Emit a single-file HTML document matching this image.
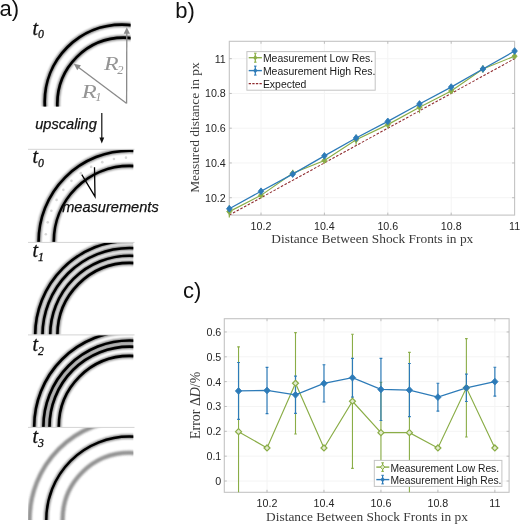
<!DOCTYPE html>
<html><head><meta charset="utf-8"><title>Figure</title>
<style>
html,body{margin:0;padding:0;background:#fff;}
svg{display:block;}
.tk{font-family:"Liberation Sans",Arial,sans-serif;font-size:10.7px;fill:#262626;}
.lg{font-family:"Liberation Sans",Arial,sans-serif;font-size:10.1px;fill:#1a1a1a;}
.xl{font-family:"Liberation Serif","Times New Roman",serif;font-size:13.4px;fill:#3a3a3a;}
.pl{font-family:"Liberation Sans",Arial,sans-serif;font-size:22px;fill:#111;}
.up{font-family:"Liberation Sans",Arial,sans-serif;font-size:14.6px;font-style:italic;fill:#111;stroke:#111;stroke-width:0.25px;}
.tl{font-family:"Liberation Serif","Times New Roman",serif;font-size:19px;font-style:italic;fill:#111;stroke:#111;stroke-width:0.3px;}
.ts{font-size:11.8px;}
.rl{font-family:"Liberation Serif","Times New Roman",serif;font-size:18px;font-style:italic;fill:#959595;}
.rs{font-family:"Liberation Serif","Times New Roman",serif;font-size:12.5px;font-style:italic;fill:#959595;}
</style></head>
<body>
<svg width="520" height="524" viewBox="0 0 520 524">
<defs>
<filter id="bl" x="-10%" y="-10%" width="120%" height="120%"><feGaussianBlur stdDeviation="0.6"/></filter>
<filter id="bl2" x="-10%" y="-10%" width="120%" height="120%"><feGaussianBlur stdDeviation="0.95"/></filter>
<filter id="bl1" x="-10%" y="-10%" width="120%" height="120%"><feGaussianBlur stdDeviation="0.5"/></filter>
<filter id="bl3" x="-10%" y="-10%" width="120%" height="120%"><feGaussianBlur stdDeviation="1.2"/></filter>
</defs>
<rect x="0" y="0" width="520" height="524" fill="#fff"/>
<clipPath id="p0"><rect x="30" y="14" width="100.6" height="92.5"/></clipPath>
<g clip-path="url(#p0)">
<g filter="url(#bl3)" opacity="0.5">
<circle cx="121.9" cy="101.8" r="77.2" fill="none" stroke="#000" stroke-width="4.8"/>
<circle cx="123.6" cy="104.0" r="66.3" fill="none" stroke="#000" stroke-width="4.8"/>
</g><g filter="url(#bl1)">
<circle cx="121.9" cy="101.8" r="77.2" fill="none" stroke="#000" stroke-width="2.7"/>
<circle cx="123.6" cy="104.0" r="66.3" fill="none" stroke="#000" stroke-width="2.7"/>
</g></g>
<g stroke="#8a8a8a" stroke-width="1.3" fill="#8a8a8a">
<line x1="126.6" y1="103.4" x2="126.8" y2="32"/>
<path d="M126.8,27.2 L129.9,33.8 L123.7,33.8Z" stroke="none"/>
<line x1="126.4" y1="103.3" x2="77.00" y2="66.20"/>
<path d="M73.8,63.8 L80.94,65.28 L77.22,70.24Z" stroke="none"/>
</g>
<text x="103.9" y="70.4" class="rl" textLength="14.6" lengthAdjust="spacingAndGlyphs">R</text><text x="117.2" y="74.3" class="rs">2</text>
<text x="81.7" y="98.1" class="rl" textLength="15" lengthAdjust="spacingAndGlyphs">R</text><text x="95.3" y="101.3" class="rs">1</text>
<text class="tl" transform="translate(32.4 34.6) scale(1.04 1.1)">t</text><text x="37.9" y="38.3" class="tl ts">0</text>
<text x="35.2" y="129.2" class="up">upscaling</text>
<line x1="101.8" y1="113" x2="101.8" y2="139" stroke="#111" stroke-width="1.2"/>
<path d="M101.8,143.6 L104.2,137.4 L99.4,137.4Z" fill="#111"/>
<clipPath id="pc0"><rect x="28" y="149.3" width="105.3" height="92.60"/></clipPath>
<g clip-path="url(#pc0)">
<circle cx="125.98" cy="157.67" r="1.3" fill="#d8d8d8"/>
<circle cx="113.96" cy="159.05" r="1.3" fill="#d8d8d8"/>
<circle cx="102.26" cy="162.14" r="1.3" fill="#d8d8d8"/>
<circle cx="91.13" cy="166.88" r="1.3" fill="#d8d8d8"/>
<circle cx="80.79" cy="173.16" r="1.3" fill="#d8d8d8"/>
<circle cx="71.47" cy="180.87" r="1.3" fill="#d8d8d8"/>
<circle cx="63.34" cy="189.84" r="1.3" fill="#d8d8d8"/>
<circle cx="56.59" cy="199.88" r="1.3" fill="#d8d8d8"/>
<circle cx="51.36" cy="210.79" r="1.3" fill="#d8d8d8"/>
<circle cx="47.74" cy="222.33" r="1.3" fill="#d8d8d8"/>
<circle cx="45.82" cy="234.28" r="1.3" fill="#d8d8d8"/>
<g filter="url(#bl3)" opacity="0.5">
<circle cx="129.5" cy="241.6" r="90.9" fill="none" stroke="#000" stroke-width="4.8"/>
<circle cx="129.5" cy="241.6" r="75.7" fill="none" stroke="#000" stroke-width="4.8"/>
</g>
<g filter="url(#bl1)">
<circle cx="129.5" cy="241.6" r="90.9" fill="none" stroke="#000" stroke-width="2.6"/>
<circle cx="129.5" cy="241.6" r="75.7" fill="none" stroke="#000" stroke-width="2.6"/>
</g>
<g filter="url(#bl2)">
</g>
</g>
<line x1="28" y1="149.3" x2="134.5" y2="149.3" stroke="#d4d4d4" stroke-width="1"/>
<text class="tl" transform="translate(32.6 163.20) scale(1.04 1.05)">t</text><text x="38.1" y="167.10" class="tl ts">0</text>
<clipPath id="pc1"><rect x="28" y="242.4" width="105.3" height="92.20"/></clipPath>
<g clip-path="url(#pc1)">
<g filter="url(#bl3)" opacity="0.5">
<circle cx="129.5" cy="335.0" r="94.3" fill="none" stroke="#000" stroke-width="4.8"/>
<circle cx="129.5" cy="335.0" r="87.0" fill="none" stroke="#000" stroke-width="4.8"/>
<circle cx="129.5" cy="335.0" r="79.3" fill="none" stroke="#000" stroke-width="4.8"/>
<circle cx="129.5" cy="335.0" r="72.1" fill="none" stroke="#000" stroke-width="4.8"/>
</g>
<g filter="url(#bl1)">
<circle cx="129.5" cy="335.0" r="94.3" fill="none" stroke="#000" stroke-width="2.6"/>
<circle cx="129.5" cy="335.0" r="87.0" fill="none" stroke="#000" stroke-width="2.6"/>
<circle cx="129.5" cy="335.0" r="79.3" fill="none" stroke="#000" stroke-width="2.6"/>
<circle cx="129.5" cy="335.0" r="72.1" fill="none" stroke="#000" stroke-width="2.6"/>
</g>
<g filter="url(#bl2)">
</g>
</g>
<line x1="28" y1="242.4" x2="134.5" y2="242.4" stroke="#d4d4d4" stroke-width="1"/>
<text class="tl" transform="translate(32.6 257.30) scale(1.04 1.05)">t</text><text x="38.1" y="261.20" class="tl ts">1</text>
<clipPath id="pc2"><rect x="28" y="334.9" width="105.3" height="92.00"/></clipPath>
<g clip-path="url(#pc2)">
<g filter="url(#bl3)" opacity="0.5">
<circle cx="129.5" cy="426.6" r="95.3" fill="none" stroke="#000" stroke-width="4.8"/>
<circle cx="129.5" cy="426.6" r="86.1" fill="none" stroke="#000" stroke-width="4.8"/>
<circle cx="129.5" cy="426.6" r="80.0" fill="none" stroke="#000" stroke-width="4.8"/>
<circle cx="129.5" cy="426.6" r="70.7" fill="none" stroke="#000" stroke-width="4.8"/>
</g>
<g filter="url(#bl1)">
<circle cx="129.5" cy="426.6" r="95.3" fill="none" stroke="#000" stroke-width="2.6"/>
<circle cx="129.5" cy="426.6" r="86.1" fill="none" stroke="#000" stroke-width="2.6"/>
<circle cx="129.5" cy="426.6" r="80.0" fill="none" stroke="#000" stroke-width="2.6"/>
<circle cx="129.5" cy="426.6" r="70.7" fill="none" stroke="#000" stroke-width="2.6"/>
</g>
<g filter="url(#bl2)">
</g>
</g>
<line x1="28" y1="334.9" x2="134.5" y2="334.9" stroke="#d4d4d4" stroke-width="1"/>
<text class="tl" transform="translate(32.6 350.80) scale(1.04 1.05)">t</text><text x="38.1" y="354.70" class="tl ts">2</text>
<clipPath id="pc3"><rect x="28" y="427.4" width="105.3" height="92.60"/></clipPath>
<g clip-path="url(#pc3)">
<g filter="url(#bl3)" opacity="0.5">
<circle cx="129.4" cy="519.6" r="99.8" fill="none" stroke="#858585" stroke-width="4.5"/>
<circle cx="129.4" cy="519.6" r="83.1" fill="none" stroke="#000" stroke-width="4.6"/>
<circle cx="129.4" cy="519.6" r="66.8" fill="none" stroke="#858585" stroke-width="4.5"/>
</g>
<g filter="url(#bl1)">
<circle cx="129.4" cy="519.6" r="83.1" fill="none" stroke="#000" stroke-width="2.4"/>
</g>
<g filter="url(#bl2)">
<circle cx="129.4" cy="519.6" r="99.8" fill="none" stroke="#858585" stroke-width="2.6"/>
<circle cx="129.4" cy="519.6" r="66.8" fill="none" stroke="#858585" stroke-width="2.6"/>
</g>
</g>
<line x1="28" y1="427.4" x2="134.5" y2="427.4" stroke="#d4d4d4" stroke-width="1"/>
<text class="tl" transform="translate(32.6 442.80) scale(1.04 1.05)">t</text><text x="38.1" y="446.70" class="tl ts">3</text>
<polyline points="81.8,174.7 95,196.7 94.5,167.3" fill="none" stroke="#000" stroke-width="1.3" stroke-linejoin="miter"/>
<text x="62.2" y="211.5" class="up">measurements</text>
<text x="-0.4" y="16.4" class="pl">a)</text>
<text x="175.3" y="18.3" class="pl">b)</text>
<text x="183" y="298.3" class="pl">c)</text>
<g id="chartb">
<line x1="261.00" y1="41.3" x2="261.00" y2="215.1" stroke="#f4f4f4" stroke-width="1"/>
<line x1="324.40" y1="41.3" x2="324.40" y2="215.1" stroke="#f4f4f4" stroke-width="1"/>
<line x1="387.80" y1="41.3" x2="387.80" y2="215.1" stroke="#f4f4f4" stroke-width="1"/>
<line x1="451.20" y1="41.3" x2="451.20" y2="215.1" stroke="#f4f4f4" stroke-width="1"/>
<line x1="229.3" y1="197.72" x2="514.6" y2="197.72" stroke="#f4f4f4" stroke-width="1"/>
<line x1="229.3" y1="162.96" x2="514.6" y2="162.96" stroke="#f4f4f4" stroke-width="1"/>
<line x1="229.3" y1="128.20" x2="514.6" y2="128.20" stroke="#f4f4f4" stroke-width="1"/>
<line x1="229.3" y1="93.44" x2="514.6" y2="93.44" stroke="#f4f4f4" stroke-width="1"/>
<line x1="229.3" y1="58.68" x2="514.6" y2="58.68" stroke="#f4f4f4" stroke-width="1"/>
<rect x="229.3" y="41.3" width="285.30" height="173.80" fill="none" stroke="#c4c4c4" stroke-width="1.1"/>
<line x1="261.00" y1="215.1" x2="261.00" y2="212.6" stroke="#b0b0b0" stroke-width="0.8"/>
<line x1="261.00" y1="41.3" x2="261.00" y2="43.8" stroke="#b0b0b0" stroke-width="0.8"/>
<line x1="324.40" y1="215.1" x2="324.40" y2="212.6" stroke="#b0b0b0" stroke-width="0.8"/>
<line x1="324.40" y1="41.3" x2="324.40" y2="43.8" stroke="#b0b0b0" stroke-width="0.8"/>
<line x1="387.80" y1="215.1" x2="387.80" y2="212.6" stroke="#b0b0b0" stroke-width="0.8"/>
<line x1="387.80" y1="41.3" x2="387.80" y2="43.8" stroke="#b0b0b0" stroke-width="0.8"/>
<line x1="451.20" y1="215.1" x2="451.20" y2="212.6" stroke="#b0b0b0" stroke-width="0.8"/>
<line x1="451.20" y1="41.3" x2="451.20" y2="43.8" stroke="#b0b0b0" stroke-width="0.8"/>
<line x1="229.3" y1="197.72" x2="231.8" y2="197.72" stroke="#b0b0b0" stroke-width="0.8"/>
<line x1="514.6" y1="197.72" x2="512.1" y2="197.72" stroke="#b0b0b0" stroke-width="0.8"/>
<line x1="229.3" y1="162.96" x2="231.8" y2="162.96" stroke="#b0b0b0" stroke-width="0.8"/>
<line x1="514.6" y1="162.96" x2="512.1" y2="162.96" stroke="#b0b0b0" stroke-width="0.8"/>
<line x1="229.3" y1="128.20" x2="231.8" y2="128.20" stroke="#b0b0b0" stroke-width="0.8"/>
<line x1="514.6" y1="128.20" x2="512.1" y2="128.20" stroke="#b0b0b0" stroke-width="0.8"/>
<line x1="229.3" y1="93.44" x2="231.8" y2="93.44" stroke="#b0b0b0" stroke-width="0.8"/>
<line x1="514.6" y1="93.44" x2="512.1" y2="93.44" stroke="#b0b0b0" stroke-width="0.8"/>
<line x1="229.3" y1="58.68" x2="231.8" y2="58.68" stroke="#b0b0b0" stroke-width="0.8"/>
<line x1="514.6" y1="58.68" x2="512.1" y2="58.68" stroke="#b0b0b0" stroke-width="0.8"/>
<clipPath id="cb"><rect x="225.3" y="37.3" width="293.30" height="181.80"/></clipPath>
<g clip-path="url(#cb)">
<polyline points="229.30,215.10 261.00,197.72 292.70,180.34 324.40,162.96 356.10,145.58 387.80,128.20 419.50,110.82 451.20,93.44 482.90,76.06 514.60,58.68" fill="none" stroke="#8f2b2e" stroke-width="1.05" stroke-dasharray="2.6 1.6"/>
<polyline points="229.30,211.62 261.00,195.36 292.70,173.30 324.40,160.56 356.10,139.72 387.80,124.62 419.50,107.20 451.20,90.94 482.90,68.96 514.60,56.14" fill="none" stroke="#8aad47" stroke-width="1.15"/>
<line x1="229.30" y1="205.62" x2="229.30" y2="217.61" stroke="#8aad47" stroke-width="1.2"/>
<path d="M229.30,208.62 L231.90,211.62 L229.30,214.62 L226.70,211.62Z" fill="#8aad47" stroke="#8aad47" stroke-width="0.8"/>
<path d="M261.00,192.36 L263.60,195.36 L261.00,198.36 L258.40,195.36Z" fill="#8aad47" stroke="#8aad47" stroke-width="0.8"/>
<line x1="292.70" y1="169.64" x2="292.70" y2="176.95" stroke="#8aad47" stroke-width="1.2"/>
<path d="M292.70,170.30 L295.30,173.30 L292.70,176.30 L290.10,173.30Z" fill="#8aad47" stroke="#8aad47" stroke-width="0.8"/>
<path d="M324.40,157.56 L327.00,160.56 L324.40,163.56 L321.80,160.56Z" fill="#8aad47" stroke="#8aad47" stroke-width="0.8"/>
<line x1="356.10" y1="134.79" x2="356.10" y2="144.65" stroke="#8aad47" stroke-width="1.2"/>
<path d="M356.10,136.72 L358.70,139.72 L356.10,142.72 L353.50,139.72Z" fill="#8aad47" stroke="#8aad47" stroke-width="0.8"/>
<line x1="387.80" y1="120.89" x2="387.80" y2="128.35" stroke="#8aad47" stroke-width="1.2"/>
<path d="M387.80,121.62 L390.40,124.62 L387.80,127.62 L385.20,124.62Z" fill="#8aad47" stroke="#8aad47" stroke-width="0.8"/>
<line x1="419.50" y1="101.19" x2="419.50" y2="113.22" stroke="#8aad47" stroke-width="1.2"/>
<path d="M419.50,104.20 L422.10,107.20 L419.50,110.20 L416.90,107.20Z" fill="#8aad47" stroke="#8aad47" stroke-width="0.8"/>
<path d="M451.20,87.94 L453.80,90.94 L451.20,93.94 L448.60,90.94Z" fill="#8aad47" stroke="#8aad47" stroke-width="0.8"/>
<line x1="482.90" y1="65.20" x2="482.90" y2="72.71" stroke="#8aad47" stroke-width="1.2"/>
<path d="M482.90,65.96 L485.50,68.96 L482.90,71.96 L480.30,68.96Z" fill="#8aad47" stroke="#8aad47" stroke-width="0.8"/>
<path d="M514.60,53.14 L517.20,56.14 L514.60,59.14 L512.00,56.14Z" fill="#8aad47" stroke="#8aad47" stroke-width="0.8"/>
<polyline points="229.30,208.74 261.00,191.26 292.70,174.13 324.40,155.86 356.10,137.99 387.80,121.41 419.50,104.01 451.20,87.10 482.90,68.96 514.60,51.03" fill="none" stroke="#2d7bb8" stroke-width="1.3"/>
<line x1="229.30" y1="206.73" x2="229.30" y2="210.75" stroke="#2d7bb8" stroke-width="1.2"/>
<path d="M229.30,205.34 L232.10,208.74 L229.30,212.14 L226.50,208.74Z" fill="#2d7bb8" stroke="#2d7bb8" stroke-width="0.8"/>
<line x1="261.00" y1="189.61" x2="261.00" y2="192.91" stroke="#2d7bb8" stroke-width="1.2"/>
<path d="M261.00,187.86 L263.80,191.26 L261.00,194.66 L258.20,191.26Z" fill="#2d7bb8" stroke="#2d7bb8" stroke-width="0.8"/>
<line x1="292.70" y1="172.79" x2="292.70" y2="175.47" stroke="#2d7bb8" stroke-width="1.2"/>
<path d="M292.70,170.73 L295.50,174.13 L292.70,177.53 L289.90,174.13Z" fill="#2d7bb8" stroke="#2d7bb8" stroke-width="0.8"/>
<line x1="324.40" y1="154.50" x2="324.40" y2="157.21" stroke="#2d7bb8" stroke-width="1.2"/>
<path d="M324.40,152.46 L327.20,155.86 L324.40,159.26 L321.60,155.86Z" fill="#2d7bb8" stroke="#2d7bb8" stroke-width="0.8"/>
<line x1="356.10" y1="136.56" x2="356.10" y2="139.41" stroke="#2d7bb8" stroke-width="1.2"/>
<path d="M356.10,134.59 L358.90,137.99 L356.10,141.39 L353.30,137.99Z" fill="#2d7bb8" stroke="#2d7bb8" stroke-width="0.8"/>
<line x1="387.80" y1="119.11" x2="387.80" y2="123.71" stroke="#2d7bb8" stroke-width="1.2"/>
<path d="M387.80,118.01 L390.60,121.41 L387.80,124.81 L385.00,121.41Z" fill="#2d7bb8" stroke="#2d7bb8" stroke-width="0.8"/>
<line x1="419.50" y1="102.02" x2="419.50" y2="106.00" stroke="#2d7bb8" stroke-width="1.2"/>
<path d="M419.50,100.61 L422.30,104.01 L419.50,107.41 L416.70,104.01Z" fill="#2d7bb8" stroke="#2d7bb8" stroke-width="0.8"/>
<line x1="451.20" y1="86.05" x2="451.20" y2="88.16" stroke="#2d7bb8" stroke-width="1.2"/>
<path d="M451.20,83.70 L454.00,87.10 L451.20,90.50 L448.40,87.10Z" fill="#2d7bb8" stroke="#2d7bb8" stroke-width="0.8"/>
<line x1="482.90" y1="67.91" x2="482.90" y2="70.00" stroke="#2d7bb8" stroke-width="1.2"/>
<path d="M482.90,65.56 L485.70,68.96 L482.90,72.36 L480.10,68.96Z" fill="#2d7bb8" stroke="#2d7bb8" stroke-width="0.8"/>
<line x1="514.60" y1="49.92" x2="514.60" y2="52.14" stroke="#2d7bb8" stroke-width="1.2"/>
<path d="M514.60,47.63 L517.40,51.03 L514.60,54.43 L511.80,51.03Z" fill="#2d7bb8" stroke="#2d7bb8" stroke-width="0.8"/>
</g>
<text x="261.00" y="229.7" text-anchor="middle" class="tk">10.2</text>
<text x="225.8" y="201.62" text-anchor="end" class="tk">10.2</text>
<text x="324.40" y="229.7" text-anchor="middle" class="tk">10.4</text>
<text x="225.8" y="166.86" text-anchor="end" class="tk">10.4</text>
<text x="387.80" y="229.7" text-anchor="middle" class="tk">10.6</text>
<text x="225.8" y="132.10" text-anchor="end" class="tk">10.6</text>
<text x="451.20" y="229.7" text-anchor="middle" class="tk">10.8</text>
<text x="225.8" y="97.34" text-anchor="end" class="tk">10.8</text>
<text x="514.60" y="229.7" text-anchor="middle" class="tk">11</text>
<text x="225.8" y="62.58" text-anchor="end" class="tk">11</text>
<rect x="246.9" y="51.6" width="128.3" height="38.6" fill="#fff" stroke="#c4c4c4" stroke-width="1"/>
<line x1="248.7" y1="57.7" x2="261.9" y2="57.7" stroke="#8aad47" stroke-width="1.4"/>
<line x1="255.3" y1="53.2" x2="255.3" y2="62.2" stroke="#8aad47" stroke-width="1.2"/>
<line x1="254" y1="53.2" x2="256.6" y2="53.2" stroke="#8aad47" stroke-width="1"/>
<line x1="254" y1="62.2" x2="256.6" y2="62.2" stroke="#8aad47" stroke-width="1"/>
<path d="M255.3,55.1 L257.5,57.7 L255.3,60.300000000000004 L253.1,57.7Z" fill="#8aad47"/>
<text x="262.9" y="62.2" class="lg" style="font-size:10.45px">Measurement Low Res.</text>
<line x1="248.7" y1="70.6" x2="261.9" y2="70.6" stroke="#2d7bb8" stroke-width="1.4"/>
<line x1="255.3" y1="66.1" x2="255.3" y2="75.1" stroke="#2d7bb8" stroke-width="1.2"/>
<line x1="254" y1="66.1" x2="256.6" y2="66.1" stroke="#2d7bb8" stroke-width="1"/>
<line x1="254" y1="75.1" x2="256.6" y2="75.1" stroke="#2d7bb8" stroke-width="1"/>
<path d="M255.3,68.0 L257.5,70.6 L255.3,73.19999999999999 L253.1,70.6Z" fill="#2d7bb8"/>
<text x="262.9" y="75.1" class="lg" style="font-size:10.45px">Measurement High Res.</text>
<line x1="248.7" y1="83.7" x2="261.9" y2="83.7" stroke="#8f2b2e" stroke-width="1.25" stroke-dasharray="2.3 1.3"/>
<text x="262.9" y="88.2" class="lg" style="font-size:10.45px">Expected</text>
<text x="372.35" y="243.2" text-anchor="middle" class="xl">Distance Between Shock Fronts in px</text>
<text x="0" y="0" transform="translate(198.8 127.6) rotate(-90)" text-anchor="middle" class="xl">Measured distance in px</text>
</g>
<g id="chartc">
<line x1="267.02" y1="318.7" x2="267.02" y2="492.3" stroke="#f4f4f4" stroke-width="1"/>
<line x1="323.98" y1="318.7" x2="323.98" y2="492.3" stroke="#f4f4f4" stroke-width="1"/>
<line x1="380.94" y1="318.7" x2="380.94" y2="492.3" stroke="#f4f4f4" stroke-width="1"/>
<line x1="437.90" y1="318.7" x2="437.90" y2="492.3" stroke="#f4f4f4" stroke-width="1"/>
<line x1="494.86" y1="318.7" x2="494.86" y2="492.3" stroke="#f4f4f4" stroke-width="1"/>
<line x1="224.3" y1="481.00" x2="509.1" y2="481.00" stroke="#f4f4f4" stroke-width="1"/>
<line x1="224.3" y1="456.16" x2="509.1" y2="456.16" stroke="#f4f4f4" stroke-width="1"/>
<line x1="224.3" y1="431.32" x2="509.1" y2="431.32" stroke="#f4f4f4" stroke-width="1"/>
<line x1="224.3" y1="406.48" x2="509.1" y2="406.48" stroke="#f4f4f4" stroke-width="1"/>
<line x1="224.3" y1="381.64" x2="509.1" y2="381.64" stroke="#f4f4f4" stroke-width="1"/>
<line x1="224.3" y1="356.80" x2="509.1" y2="356.80" stroke="#f4f4f4" stroke-width="1"/>
<line x1="224.3" y1="331.96" x2="509.1" y2="331.96" stroke="#f4f4f4" stroke-width="1"/>
<rect x="224.3" y="318.7" width="284.80" height="173.60" fill="none" stroke="#c4c4c4" stroke-width="1.1"/>
<line x1="267.02" y1="492.3" x2="267.02" y2="489.8" stroke="#b0b0b0" stroke-width="0.8"/>
<line x1="267.02" y1="318.7" x2="267.02" y2="321.2" stroke="#b0b0b0" stroke-width="0.8"/>
<line x1="323.98" y1="492.3" x2="323.98" y2="489.8" stroke="#b0b0b0" stroke-width="0.8"/>
<line x1="323.98" y1="318.7" x2="323.98" y2="321.2" stroke="#b0b0b0" stroke-width="0.8"/>
<line x1="380.94" y1="492.3" x2="380.94" y2="489.8" stroke="#b0b0b0" stroke-width="0.8"/>
<line x1="380.94" y1="318.7" x2="380.94" y2="321.2" stroke="#b0b0b0" stroke-width="0.8"/>
<line x1="437.90" y1="492.3" x2="437.90" y2="489.8" stroke="#b0b0b0" stroke-width="0.8"/>
<line x1="437.90" y1="318.7" x2="437.90" y2="321.2" stroke="#b0b0b0" stroke-width="0.8"/>
<line x1="494.86" y1="492.3" x2="494.86" y2="489.8" stroke="#b0b0b0" stroke-width="0.8"/>
<line x1="494.86" y1="318.7" x2="494.86" y2="321.2" stroke="#b0b0b0" stroke-width="0.8"/>
<line x1="224.3" y1="481.00" x2="226.8" y2="481.00" stroke="#b0b0b0" stroke-width="0.8"/>
<line x1="509.1" y1="481.00" x2="506.6" y2="481.00" stroke="#b0b0b0" stroke-width="0.8"/>
<line x1="224.3" y1="456.16" x2="226.8" y2="456.16" stroke="#b0b0b0" stroke-width="0.8"/>
<line x1="509.1" y1="456.16" x2="506.6" y2="456.16" stroke="#b0b0b0" stroke-width="0.8"/>
<line x1="224.3" y1="431.32" x2="226.8" y2="431.32" stroke="#b0b0b0" stroke-width="0.8"/>
<line x1="509.1" y1="431.32" x2="506.6" y2="431.32" stroke="#b0b0b0" stroke-width="0.8"/>
<line x1="224.3" y1="406.48" x2="226.8" y2="406.48" stroke="#b0b0b0" stroke-width="0.8"/>
<line x1="509.1" y1="406.48" x2="506.6" y2="406.48" stroke="#b0b0b0" stroke-width="0.8"/>
<line x1="224.3" y1="381.64" x2="226.8" y2="381.64" stroke="#b0b0b0" stroke-width="0.8"/>
<line x1="509.1" y1="381.64" x2="506.6" y2="381.64" stroke="#b0b0b0" stroke-width="0.8"/>
<line x1="224.3" y1="356.80" x2="226.8" y2="356.80" stroke="#b0b0b0" stroke-width="0.8"/>
<line x1="509.1" y1="356.80" x2="506.6" y2="356.80" stroke="#b0b0b0" stroke-width="0.8"/>
<line x1="224.3" y1="331.96" x2="226.8" y2="331.96" stroke="#b0b0b0" stroke-width="0.8"/>
<line x1="509.1" y1="331.96" x2="506.6" y2="331.96" stroke="#b0b0b0" stroke-width="0.8"/>
<clipPath id="cc"><rect x="224.3" y="318.7" width="284.80" height="173.60"/></clipPath>
<g clip-path="url(#cc)">
<polyline points="238.54,431.69 267.02,447.96 295.50,383.25 323.98,447.96 352.46,401.26 380.94,432.69 409.42,432.69 437.90,447.96 466.38,387.85 494.86,447.96" fill="none" stroke="#8aad47" stroke-width="1.15"/>
<line x1="238.54" y1="346.86" x2="238.54" y2="516.52" stroke="#8aad47" stroke-width="1.1"/>
<line x1="237.24" y1="346.86" x2="239.84" y2="346.86" stroke="#8aad47" stroke-width="1.1"/>
<line x1="237.24" y1="516.52" x2="239.84" y2="516.52" stroke="#8aad47" stroke-width="1.1"/>
<line x1="295.50" y1="332.58" x2="295.50" y2="433.93" stroke="#8aad47" stroke-width="1.1"/>
<line x1="294.20" y1="332.58" x2="296.80" y2="332.58" stroke="#8aad47" stroke-width="1.1"/>
<line x1="294.20" y1="433.93" x2="296.80" y2="433.93" stroke="#8aad47" stroke-width="1.1"/>
<line x1="352.46" y1="334.20" x2="352.46" y2="468.33" stroke="#8aad47" stroke-width="1.1"/>
<line x1="351.16" y1="334.20" x2="353.76" y2="334.20" stroke="#8aad47" stroke-width="1.1"/>
<line x1="351.16" y1="468.33" x2="353.76" y2="468.33" stroke="#8aad47" stroke-width="1.1"/>
<line x1="380.94" y1="382.39" x2="380.94" y2="482.99" stroke="#8aad47" stroke-width="1.1"/>
<line x1="379.64" y1="382.39" x2="382.24" y2="382.39" stroke="#8aad47" stroke-width="1.1"/>
<line x1="379.64" y1="482.99" x2="382.24" y2="482.99" stroke="#8aad47" stroke-width="1.1"/>
<line x1="409.42" y1="352.33" x2="409.42" y2="513.04" stroke="#8aad47" stroke-width="1.1"/>
<line x1="408.12" y1="352.33" x2="410.72" y2="352.33" stroke="#8aad47" stroke-width="1.1"/>
<line x1="408.12" y1="513.04" x2="410.72" y2="513.04" stroke="#8aad47" stroke-width="1.1"/>
<line x1="466.38" y1="338.67" x2="466.38" y2="437.03" stroke="#8aad47" stroke-width="1.1"/>
<line x1="465.08" y1="338.67" x2="467.68" y2="338.67" stroke="#8aad47" stroke-width="1.1"/>
<line x1="465.08" y1="437.03" x2="467.68" y2="437.03" stroke="#8aad47" stroke-width="1.1"/>
<polyline points="238.54,390.95 267.02,390.46 295.50,394.81 323.98,383.38 352.46,377.67 380.94,389.46 409.42,390.09 437.90,397.16 466.38,387.85 494.86,381.64" fill="none" stroke="#2d7bb8" stroke-width="1.3"/>
<line x1="238.54" y1="362.51" x2="238.54" y2="419.40" stroke="#2d7bb8" stroke-width="1.2"/>
<line x1="237.14" y1="362.51" x2="239.94" y2="362.51" stroke="#2d7bb8" stroke-width="1.2"/>
<line x1="237.14" y1="419.40" x2="239.94" y2="419.40" stroke="#2d7bb8" stroke-width="1.2"/>
<line x1="267.02" y1="367.36" x2="267.02" y2="413.56" stroke="#2d7bb8" stroke-width="1.2"/>
<line x1="265.62" y1="367.36" x2="268.42" y2="367.36" stroke="#2d7bb8" stroke-width="1.2"/>
<line x1="265.62" y1="413.56" x2="268.42" y2="413.56" stroke="#2d7bb8" stroke-width="1.2"/>
<line x1="295.50" y1="376.18" x2="295.50" y2="413.44" stroke="#2d7bb8" stroke-width="1.2"/>
<line x1="294.10" y1="376.18" x2="296.90" y2="376.18" stroke="#2d7bb8" stroke-width="1.2"/>
<line x1="294.10" y1="413.44" x2="296.90" y2="413.44" stroke="#2d7bb8" stroke-width="1.2"/>
<line x1="323.98" y1="364.75" x2="323.98" y2="402.01" stroke="#2d7bb8" stroke-width="1.2"/>
<line x1="322.58" y1="364.75" x2="325.38" y2="364.75" stroke="#2d7bb8" stroke-width="1.2"/>
<line x1="322.58" y1="402.01" x2="325.38" y2="402.01" stroke="#2d7bb8" stroke-width="1.2"/>
<line x1="352.46" y1="358.29" x2="352.46" y2="397.04" stroke="#2d7bb8" stroke-width="1.2"/>
<line x1="351.06" y1="358.29" x2="353.86" y2="358.29" stroke="#2d7bb8" stroke-width="1.2"/>
<line x1="351.06" y1="397.04" x2="353.86" y2="397.04" stroke="#2d7bb8" stroke-width="1.2"/>
<line x1="380.94" y1="358.41" x2="380.94" y2="420.51" stroke="#2d7bb8" stroke-width="1.2"/>
<line x1="379.54" y1="358.41" x2="382.34" y2="358.41" stroke="#2d7bb8" stroke-width="1.2"/>
<line x1="379.54" y1="420.51" x2="382.34" y2="420.51" stroke="#2d7bb8" stroke-width="1.2"/>
<line x1="409.42" y1="363.51" x2="409.42" y2="416.66" stroke="#2d7bb8" stroke-width="1.2"/>
<line x1="408.02" y1="363.51" x2="410.82" y2="363.51" stroke="#2d7bb8" stroke-width="1.2"/>
<line x1="408.02" y1="416.66" x2="410.82" y2="416.66" stroke="#2d7bb8" stroke-width="1.2"/>
<line x1="437.90" y1="383.25" x2="437.90" y2="411.08" stroke="#2d7bb8" stroke-width="1.2"/>
<line x1="436.50" y1="383.25" x2="439.30" y2="383.25" stroke="#2d7bb8" stroke-width="1.2"/>
<line x1="436.50" y1="411.08" x2="439.30" y2="411.08" stroke="#2d7bb8" stroke-width="1.2"/>
<line x1="466.38" y1="374.19" x2="466.38" y2="401.51" stroke="#2d7bb8" stroke-width="1.2"/>
<line x1="464.98" y1="374.19" x2="467.78" y2="374.19" stroke="#2d7bb8" stroke-width="1.2"/>
<line x1="464.98" y1="401.51" x2="467.78" y2="401.51" stroke="#2d7bb8" stroke-width="1.2"/>
<line x1="494.86" y1="367.23" x2="494.86" y2="396.05" stroke="#2d7bb8" stroke-width="1.2"/>
<line x1="493.46" y1="367.23" x2="496.26" y2="367.23" stroke="#2d7bb8" stroke-width="1.2"/>
<line x1="493.46" y1="396.05" x2="496.26" y2="396.05" stroke="#2d7bb8" stroke-width="1.2"/>
<path d="M238.54,428.69 L241.54,431.69 L238.54,434.69 L235.54,431.69Z" fill="#e3eccf" stroke="#8aad47" stroke-width="1.2"/>
<path d="M267.02,444.96 L270.02,447.96 L267.02,450.96 L264.02,447.96Z" fill="#e3eccf" stroke="#8aad47" stroke-width="1.2"/>
<path d="M295.50,380.25 L298.50,383.25 L295.50,386.25 L292.50,383.25Z" fill="#e3eccf" stroke="#8aad47" stroke-width="1.2"/>
<path d="M323.98,444.96 L326.98,447.96 L323.98,450.96 L320.98,447.96Z" fill="#e3eccf" stroke="#8aad47" stroke-width="1.2"/>
<path d="M352.46,398.26 L355.46,401.26 L352.46,404.26 L349.46,401.26Z" fill="#e3eccf" stroke="#8aad47" stroke-width="1.2"/>
<path d="M380.94,429.69 L383.94,432.69 L380.94,435.69 L377.94,432.69Z" fill="#e3eccf" stroke="#8aad47" stroke-width="1.2"/>
<path d="M409.42,429.69 L412.42,432.69 L409.42,435.69 L406.42,432.69Z" fill="#e3eccf" stroke="#8aad47" stroke-width="1.2"/>
<path d="M437.90,444.96 L440.90,447.96 L437.90,450.96 L434.90,447.96Z" fill="#e3eccf" stroke="#8aad47" stroke-width="1.2"/>
<path d="M466.38,384.85 L469.38,387.85 L466.38,390.85 L463.38,387.85Z" fill="#e3eccf" stroke="#8aad47" stroke-width="1.2"/>
<path d="M494.86,444.96 L497.86,447.96 L494.86,450.96 L491.86,447.96Z" fill="#e3eccf" stroke="#8aad47" stroke-width="1.2"/>
<path d="M238.54,387.56 L241.74,390.95 L238.54,394.35 L235.34,390.95Z" fill="#2d7bb8" stroke="#2d7bb8" stroke-width="0.8"/>
<path d="M267.02,387.06 L270.22,390.46 L267.02,393.86 L263.82,390.46Z" fill="#2d7bb8" stroke="#2d7bb8" stroke-width="0.8"/>
<path d="M295.50,391.41 L298.70,394.81 L295.50,398.21 L292.30,394.81Z" fill="#2d7bb8" stroke="#2d7bb8" stroke-width="0.8"/>
<path d="M323.98,379.98 L327.18,383.38 L323.98,386.78 L320.78,383.38Z" fill="#2d7bb8" stroke="#2d7bb8" stroke-width="0.8"/>
<path d="M352.46,374.27 L355.66,377.67 L352.46,381.07 L349.26,377.67Z" fill="#2d7bb8" stroke="#2d7bb8" stroke-width="0.8"/>
<path d="M380.94,386.06 L384.14,389.46 L380.94,392.86 L377.74,389.46Z" fill="#2d7bb8" stroke="#2d7bb8" stroke-width="0.8"/>
<path d="M409.42,386.69 L412.62,390.09 L409.42,393.49 L406.22,390.09Z" fill="#2d7bb8" stroke="#2d7bb8" stroke-width="0.8"/>
<path d="M437.90,393.76 L441.10,397.16 L437.90,400.56 L434.70,397.16Z" fill="#2d7bb8" stroke="#2d7bb8" stroke-width="0.8"/>
<path d="M466.38,384.45 L469.58,387.85 L466.38,391.25 L463.18,387.85Z" fill="#2d7bb8" stroke="#2d7bb8" stroke-width="0.8"/>
<path d="M494.86,378.24 L498.06,381.64 L494.86,385.04 L491.66,381.64Z" fill="#2d7bb8" stroke="#2d7bb8" stroke-width="0.8"/>
</g>
<text x="267.02" y="507.4" text-anchor="middle" class="tk">10.2</text>
<text x="323.98" y="507.4" text-anchor="middle" class="tk">10.4</text>
<text x="380.94" y="507.4" text-anchor="middle" class="tk">10.6</text>
<text x="437.90" y="507.4" text-anchor="middle" class="tk">10.8</text>
<text x="494.86" y="507.4" text-anchor="middle" class="tk">11</text>
<text x="221.3" y="484.90" text-anchor="end" class="tk">0</text>
<text x="221.3" y="460.06" text-anchor="end" class="tk">0.1</text>
<text x="221.3" y="435.22" text-anchor="end" class="tk">0.2</text>
<text x="221.3" y="410.38" text-anchor="end" class="tk">0.3</text>
<text x="221.3" y="385.54" text-anchor="end" class="tk">0.4</text>
<text x="221.3" y="360.70" text-anchor="end" class="tk">0.5</text>
<text x="221.3" y="335.86" text-anchor="end" class="tk">0.6</text>
<rect x="374.3" y="460.4" width="127.6" height="26" fill="#fff" stroke="#c4c4c4" stroke-width="1"/>
<line x1="376.3" y1="467.1" x2="389.3" y2="467.1" stroke="#8aad47" stroke-width="1.4"/>
<line x1="382.6" y1="462.8" x2="382.6" y2="471.40000000000003" stroke="#8aad47" stroke-width="1.2"/>
<line x1="381.3" y1="462.8" x2="383.9" y2="462.8" stroke="#8aad47" stroke-width="1"/>
<line x1="381.3" y1="471.40000000000003" x2="383.9" y2="471.40000000000003" stroke="#8aad47" stroke-width="1"/>
<path d="M382.6,464.70000000000005 L384.8,467.1 L382.6,469.5 L380.4,467.1Z" fill="#e3eccf" stroke="#8aad47" stroke-width="1"/>
<text x="390.4" y="471.6" class="lg" style="font-size:10.3px">Measurement Low Res.</text>
<line x1="376.3" y1="479.6" x2="389.3" y2="479.6" stroke="#2d7bb8" stroke-width="1.4"/>
<line x1="382.6" y1="475.3" x2="382.6" y2="483.90000000000003" stroke="#2d7bb8" stroke-width="1.2"/>
<line x1="381.3" y1="475.3" x2="383.9" y2="475.3" stroke="#2d7bb8" stroke-width="1"/>
<line x1="381.3" y1="483.90000000000003" x2="383.9" y2="483.90000000000003" stroke="#2d7bb8" stroke-width="1"/>
<path d="M382.6,477.0 L384.8,479.6 L382.6,482.20000000000005 L380.4,479.6Z" fill="#2d7bb8"/>
<text x="390.4" y="484.1" class="lg" style="font-size:10.3px">Measurement High Res.</text>
<text x="367.05" y="520.6" text-anchor="middle" class="xl">Distance Between Shock Fronts in px</text>
<text x="0" y="0" transform="translate(199.8 405.3) rotate(-90)" text-anchor="middle" class="xl" style="font-size:13.9px">Error <tspan>Δ</tspan><tspan font-style="italic">D</tspan>/%</text>
</g>
</svg>
</body></html>
